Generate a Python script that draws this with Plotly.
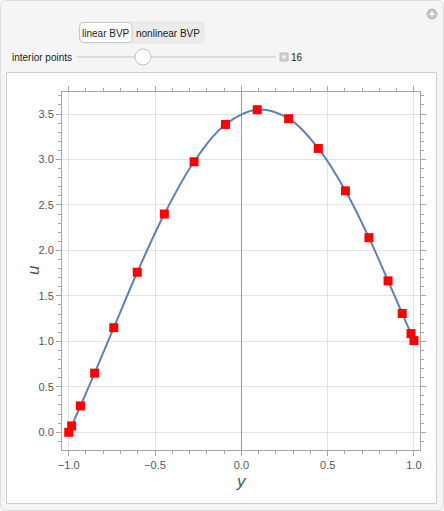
import plotly.graph_objects as go

# Chebyshev-Gitterpunkte und Lösungswerte
y_punkte = [-1.0, -0.983, -0.932, -0.850, -0.739, -0.603, -0.446, -0.274, -0.092,
            0.092, 0.274, 0.446, 0.603, 0.739, 0.850, 0.932, 0.983, 1.0]
u_werte = [0.0, 0.07, 0.29, 0.65, 1.15, 1.76, 2.40, 2.975, 3.385,
           3.547, 3.448, 3.121, 2.655, 2.14, 1.665, 1.306, 1.085, 1.008]

x_ticks = [-1.0, -0.5, 0.0, 0.5, 1.0]
y_ticks = [0.0, 0.5, 1.0, 1.5, 2.0, 2.5, 3.0, 3.5]

BREITE, HOEHE = 444, 511
L, R, T, B = 62, 24, 92, 61
FONT = "Liberation Sans"


def px(x):
    return (x - L) / (BREITE - L - R)


def py(y):
    return (HOEHE - B - y) / (HOEHE - T - B)


def runde_box(x0, y0, x1, y1, r, fill, rand):
    # abgerundetes Rechteck in Pixelkoordinaten -> Papierkoordinaten
    p = (f"M {px(x0 + r)} {py(y0)} L {px(x1 - r)} {py(y0)} "
         f"Q {px(x1)} {py(y0)} {px(x1)} {py(y0 + r)} L {px(x1)} {py(y1 - r)} "
         f"Q {px(x1)} {py(y1)} {px(x1 - r)} {py(y1)} L {px(x0 + r)} {py(y1)} "
         f"Q {px(x0)} {py(y1)} {px(x0)} {py(y1 - r)} L {px(x0)} {py(y0 + r)} "
         f"Q {px(x0)} {py(y0)} {px(x0 + r)} {py(y0)} Z")
    return dict(type="path", xref="paper", yref="paper", path=p, fillcolor=fill,
                line=dict(color=rand, width=1), layer="below")


fig = go.Figure()

fig.add_trace(go.Scatter(x=y_punkte, y=u_werte, mode="lines",
                         line=dict(color="#5E81B5", width=2, shape="spline", smoothing=1.0),
                         hoverinfo="skip", showlegend=False))
fig.add_trace(go.Scatter(x=y_punkte, y=u_werte, mode="markers",
                         marker=dict(symbol="square", size=9, color="#FF0000"),
                         showlegend=False))

formen = []
# Hintergrund des Panels
formen.append(runde_box(0.5, 0.5, 443.5, 510.5, 5, "#F5F5F5", "#DDDDDD"))
formen.append(dict(type="rect", xref="paper", yref="paper", x0=px(6.5), x1=px(436.5), y0=py(503.5), y1=py(72.5),
                   fillcolor="#FFFFFF", line=dict(color="#CFCFCF", width=1), layer="below"))
# Umschalter
formen.append(runde_box(79, 22, 204, 43, 5, "#EBEBEB", "#E6E6E6"))
formen.append(runde_box(79.5, 22.5, 132, 42.5, 5, "#FFFFFF", "#C8C8C8"))
# Schieberegler
formen.append(dict(type="line", xref="paper", yref="paper", x0=px(77), x1=px(276), y0=py(57), y1=py(57),
                   line=dict(color="#DCDCDC", width=2), layer="below"))
formen.append(dict(type="circle", xref="paper", yref="paper", x0=px(135), x1=px(151), y0=py(65), y1=py(49),
                   fillcolor="#FFFFFF", line=dict(color="#C4C4C4", width=1)))
formen.append(dict(type="rect", xref="paper", yref="paper", x0=px(280), x1=px(288), y0=py(61), y1=py(53),
                   fillcolor="#CFCFCF", line=dict(color="#C0C0C0", width=1)))
formen.append(dict(type="line", xref="paper", yref="paper", x0=px(282), x1=px(286), y0=py(57), y1=py(57),
                   line=dict(color="#FFFFFF", width=1)))
formen.append(dict(type="line", xref="paper", yref="paper", x0=px(284), x1=px(284), y0=py(55), y1=py(59),
                   line=dict(color="#FFFFFF", width=1)))
# Plus-Symbol oben rechts
formen.append(dict(type="circle", xref="paper", yref="paper", x0=px(427), x1=px(437), y0=py(19), y1=py(9),
                   fillcolor="#C4C4C4", line=dict(color="#BBBBBB", width=1)))
formen.append(dict(type="line", xref="paper", yref="paper", x0=px(429.5), x1=px(434.5), y0=py(14), y1=py(14),
                   line=dict(color="#FFFFFF", width=1.5)))
formen.append(dict(type="line", xref="paper", yref="paper", x0=px(432), x1=px(432), y0=py(11.5), y1=py(16.5),
                   line=dict(color="#FFFFFF", width=1.5)))

texte = [
    dict(text="linear BVP", x=px(106), y=py(33)),
    dict(text="nonlinear BVP", x=px(168), y=py(33)),
    dict(text="interior points", x=px(42), y=py(57)),
    dict(text="16", x=px(297), y=py(57)),
]
annotationen = [dict(xref="paper", yref="paper", xanchor="center", yanchor="middle", showarrow=False,
                     font=dict(family=FONT, size=10, color="#222222"), **t) for t in texte]
annotationen.append(dict(text="<i>y</i>", xref="paper", yref="paper", x=px(241), y=py(481), showarrow=False,
                         xanchor="center", yanchor="middle", font=dict(family=FONT, size=17, color="#555555")))
annotationen.append(dict(text="<i>u</i>", xref="paper", yref="paper", x=px(33), y=py(270), showarrow=False,
                         textangle=-90, xanchor="center", yanchor="middle",
                         font=dict(family=FONT, size=17, color="#555555")))

achse = dict(showline=True, linecolor="#A6A6A6", linewidth=1, mirror="ticks",
             ticks="outside", ticklen=5, tickcolor="#A6A6A6", tickwidth=1,
             showgrid=True, gridcolor="#E2E2E2", gridwidth=1,
             tickfont=dict(family=FONT, size=11, color="#555555"),
             minor=dict(dtick=0.1, ticks="outside", ticklen=3, tickcolor="#A6A6A6", showgrid=False))

fig.update_layout(
    width=BREITE, height=HOEHE,
    margin=dict(l=L, r=R, t=T, b=B),
    paper_bgcolor="#FFFFFF", plot_bgcolor="#FFFFFF",
    xaxis=dict(range=[-1.039, 1.035], tickvals=x_ticks, tickformat=".1f",
               zeroline=True, zerolinecolor="#9A9A9A", zerolinewidth=1, **achse),
    yaxis=dict(range=[-0.195, 3.742], tickvals=y_ticks, tickformat=".1f",
               zeroline=False, **achse),
    shapes=formen,
    annotations=annotationen,
    showlegend=False,
)

fig.write_html("out.html", config={"displayModeBar": False},
               post_script="document.body.style.margin='0';")
